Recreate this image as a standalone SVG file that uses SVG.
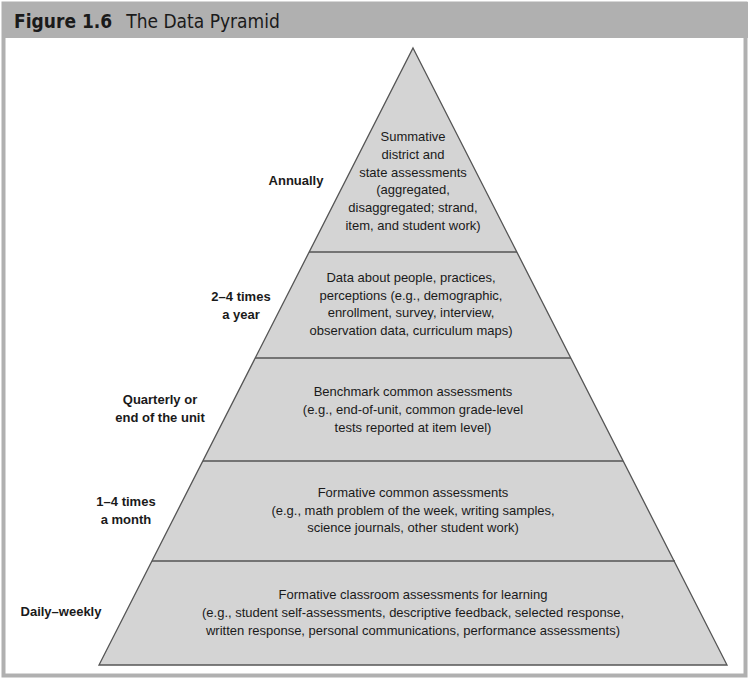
<svg xmlns="http://www.w3.org/2000/svg" width="751" height="681" viewBox="0 0 751 681">
<style>
.t{font-family:"Liberation Sans",Arial,sans-serif;font-size:13px;fill:#1a1a1a;text-anchor:middle}
.l{font-family:"Liberation Sans",Arial,sans-serif;font-size:13px;font-weight:bold;fill:#1a1a1a;text-anchor:middle}
.h{font-family:"Liberation Sans Narrow","DejaVu Sans Condensed","Noto Sans",sans-serif;font-size:19px;fill:#1a1a1a}
.ln{stroke:#555;stroke-width:1.3;fill:none}
</style>
<rect x="0" y="0" width="751" height="681" fill="#fff"/>
<rect x="3.5" y="3.5" width="742" height="672" fill="#fff" stroke="#b0b0b0" stroke-width="4"/>
<rect x="2" y="2" width="746" height="36" fill="#b0b0b0"/>
<text x="14" y="28" class="h"><tspan font-weight="bold">Figure 1.6</tspan><tspan dx="14">The Data Pyramid</tspan></text>
<g id="pyramid">
<polygon points="413,48 727,665 99,665" fill="#d4d4d4" stroke="#555" stroke-width="1.3"/>
</g>
<g id="connectors">
<line class="ln" x1="309" y1="252" x2="517" y2="252"/>
<line class="ln" x1="255" y1="358" x2="571" y2="358"/>
<line class="ln" x1="203" y1="461" x2="623" y2="461"/>
<line class="ln" x1="152" y1="561" x2="675" y2="561"/>
</g>
<g id="tier1">
<text class="t" x="413" y="141">Summative</text>
<text class="t" x="413" y="159">district and</text>
<text class="t" x="413" y="177">state assessments</text>
<text class="t" x="413" y="194">(aggregated,</text>
<text class="t" x="413" y="212">disaggregated; strand,</text>
<text class="t" x="413" y="230">item, and student work)</text>
<text class="l" x="296" y="185">Annually</text>
</g>
<g id="tier2">
<text class="t" x="411" y="282">Data about people, practices,</text>
<text class="t" x="411" y="300">perceptions (e.g., demographic,</text>
<text class="t" x="411" y="317">enrollment, survey, interview,</text>
<text class="t" x="411" y="335">observation data, curriculum maps)</text>
<text class="l" x="241" y="301">2–4 times</text>
<text class="l" x="241" y="319">a year</text>
</g>
<g id="tier3">
<text class="t" x="413" y="396">Benchmark common assessments</text>
<text class="t" x="413" y="414">(e.g., end-of-unit, common grade-level</text>
<text class="t" x="413" y="432">tests reported at item level)</text>
<text class="l" x="160" y="404">Quarterly or</text>
<text class="l" x="160" y="422">end of the unit</text>
</g>
<g id="tier4">
<text class="t" x="413" y="497">Formative common assessments</text>
<text class="t" x="413" y="515">(e.g., math problem of the week, writing samples,</text>
<text class="t" x="413" y="532">science journals, other student work)</text>
<text class="l" x="126" y="506">1–4 times</text>
<text class="l" x="126" y="524">a month</text>
</g>
<g id="tier5">
<text class="t" x="413" y="599">Formative classroom assessments for learning</text>
<text class="t" x="413" y="617">(e.g., student self-assessments, descriptive feedback, selected response,</text>
<text class="t" x="413" y="635">written response, personal communications, performance assessments)</text>
<text class="l" x="61" y="616">Daily–weekly</text>
</g>
</svg>
